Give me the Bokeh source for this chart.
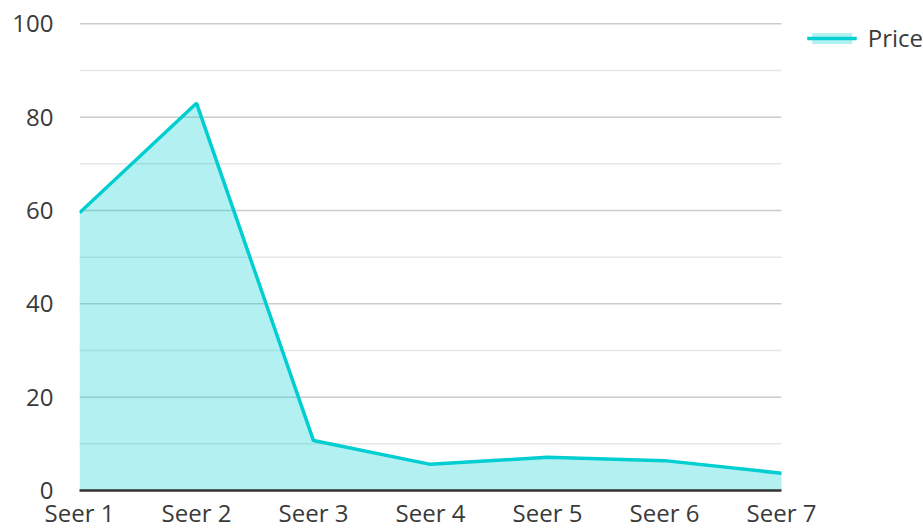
from bokeh.plotting import figure
from bokeh.models import Range1d, FixedTicker, Legend, LegendItem
from bokeh.embed import file_html
from bokeh.resources import INLINE

categories = ["Seer 1", "Seer 2", "Seer 3", "Seer 4", "Seer 5", "Seer 6", "Seer 7"]
price = [59.5, 83.0, 10.7, 5.6, 7.1, 6.4, 3.7]
y_major = [0, 20, 40, 60, 80, 100]
y_minor = [10, 30, 50, 70, 90]

xs = list(range(len(categories)))
FONT = "Open Sans"
LINE = "#00CED1"
last = len(categories) - 1
# frame continues to the right edge to host the legend; grid/axis are bounded to the data span
x_end = last * (923 - 79) / (781 - 79)

p = figure(width=923, height=531, output_backend="svg", toolbar_location=None,
           x_range=Range1d(0, x_end), y_range=Range1d(0, 100.5),
           min_border_left=79, min_border_right=0, min_border_top=21, min_border_bottom=41)
p.outline_line_color = None
p.background_fill_color = None
p.xgrid.visible = False
p.ygrid.visible = False

# horizontal grid lines spanning only the category span
p.segment(x0=0, x1=last, y0=y_minor, y1=y_minor, line_color="#e6e6e6", line_width=1.5)
p.segment(x0=0, x1=last, y0=y_major[1:], y1=y_major[1:], line_color="#cccccc", line_width=1.5)

area = p.varea(x=xs, y1=[0] * len(xs), y2=price, fill_color=LINE, fill_alpha=0.3)
line = p.line(x=xs, y=price, line_color=LINE, line_width=3.5)

p.xaxis.ticker = FixedTicker(ticks=xs)
p.xaxis.major_label_overrides = {i: c for i, c in enumerate(categories)}
p.xaxis.bounds = (0, last)
p.yaxis.ticker = FixedTicker(ticks=y_major, minor_ticks=y_minor)

for ax in (p.xaxis[0], p.yaxis[0]):
    ax.major_label_text_font = FONT
    ax.major_label_text_font_size = "24px"
    ax.major_label_text_color = "#3a3a3a"
    ax.major_tick_line_color = None
    ax.minor_tick_line_color = None
p.yaxis.axis_line_color = None
p.yaxis.major_label_standoff = 20
p.xaxis.axis_line_color = "#333333"
p.xaxis.axis_line_width = 2.5
p.xaxis.major_label_standoff = -1

legend = Legend(items=[LegendItem(label="Price", renderers=[area, line])],
                location="top_right", padding=0, margin=0, spacing=0,
                glyph_width=50, glyph_height=14, label_standoff=11,
                label_text_font=FONT, label_text_font_size="24px",
                label_text_color="#3a3a3a", background_fill_alpha=0,
                border_line_color=None)
p.add_layout(legend, "center")

open("out.html", "w").write(file_html(p, INLINE))
